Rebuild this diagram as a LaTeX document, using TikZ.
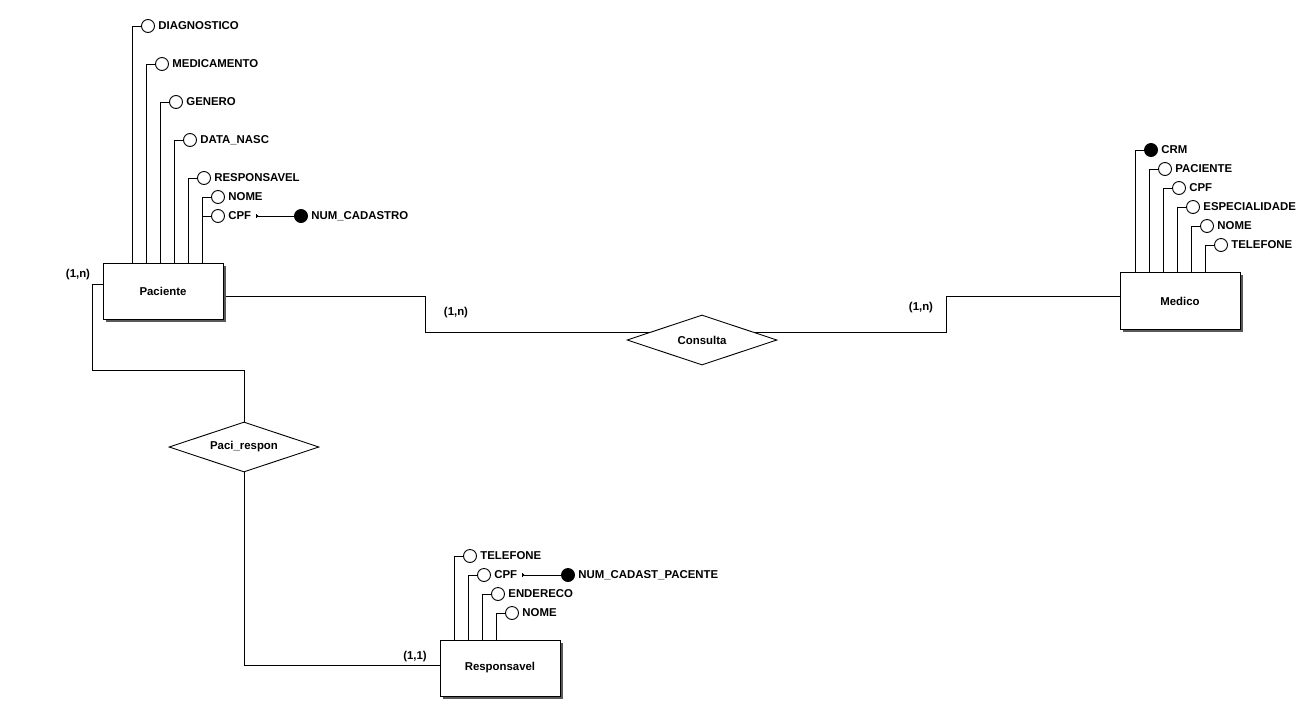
\documentclass[tikz,border=0pt]{standalone}
\usepackage{fontspec}
\setmainfont{Liberation Sans}
\usetikzlibrary{positioning,shapes.geometric,shadows,arrows.meta,backgrounds}

\tikzset{
  entity/.style={draw, fill=white, minimum width=120pt, minimum height=56pt,
    drop shadow={shadow xshift=2.5pt, shadow yshift=-2.5pt, fill=black!65, opacity=1}},
  relation/.style={draw, diamond, aspect=3, fill=white, inner sep=0pt,
    minimum width=150pt, minimum height=50pt},
  attr/.style={draw, circle, fill=white, minimum size=13pt, inner sep=0pt},
  keyattr/.style={attr, fill=black},
  attrtext/.style={inner sep=1pt},
  cpfline/.style={{Bar[width=4pt]Triangle[reversed,length=2pt,width=3pt]}-}
}

\begin{document}
\begin{tikzpicture}[x=1pt, y=-1pt, line width=0.9pt, font=\fontsize{11.4}{13}\selectfont\bfseries]

\useasboundingbox (0,0) rectangle (1302,702);

% Entities
\node[entity] (Paciente) at (163,291) {Paciente};
\node[entity, minimum height=57pt] (Medico) at (1180,301) {Medico};
\node[entity] (Responsavel) at (500,668) {Responsavel};

% Relationships
\node[relation] (Consulta) at (702,340) {Consulta};
\node[relation] (PaciRespon) at (244,447) {Paci\_respon};

% Attributes of Paciente
\foreach \nm/\txt/\yy/\xx in {pDiag/DIAGNOSTICO/26/132, pMedic/MEDICAMENTO/64/146,
    pGen/GENERO/102/160, pNasc/DATA\_NASC/140/174, pResp/RESPONSAVEL/178/188,
    pNome/NOME/197/202, pCpf/CPF/216/202}{
  \node[attr] (\nm) at (\xx+16,\yy) {};
  \node[attrtext, right=2pt of \nm] (\nm-t) {\txt};
  \draw (\nm.west) -| (\xx,0 |- Paciente.north);
}

% Composite CPF of Paciente
\node[keyattr] (pNum) at (301,216) {};
\node[attrtext, right=2pt of pNum] (pNum-t) {NUM\_CADASTRO};
\draw[cpfline] ([xshift=3pt]pCpf-t.east) -- (pNum.west);

% Attributes of Medico
\foreach \nm/\txt/\yy/\xx/\st in {mCrm/CRM/150/1135/keyattr, mPac/PACIENTE/169/1149/attr,
    mCpf/CPF/188/1163/attr, mEsp/ESPECIALIDADE/207/1177/attr,
    mNome/NOME/226/1191/attr, mTel/TELEFONE/245/1205/attr}{
  \node[\st] (\nm) at (\xx+16,\yy) {};
  \node[attrtext, right=2pt of \nm] (\nm-t) {\txt};
  \draw (\nm.west) -| (\xx,0 |- Medico.north);
}

% Attributes of Responsavel
\foreach \nm/\txt/\yy/\xx in {rTel/TELEFONE/556/454, rCpf/CPF/575/468,
    rEnd/ENDERECO/594/482, rNome/NOME/613/496}{
  \node[attr] (\nm) at (\xx+16,\yy) {};
  \node[attrtext, right=2pt of \nm] (\nm-t) {\txt};
  \draw (\nm.west) -| (\xx,0 |- Responsavel.north);
}

% Composite CPF of Responsavel
\node[keyattr] (rNum) at (568,575) {};
\node[attrtext, right=2pt of rNum] (rNum-t) {NUM\_CADAST\_PACENTE};
\draw[cpfline] ([xshift=3pt]rCpf-t.east) -- (rNum.west);

% Cardinalities
\node (card1) at (78,275) {(1,n)};
\node (card2) at (456,313) {(1,n)};
\node (card3) at (921,308) {(1,n)};
\node (card4) at (415,657) {(1,1)};

% Connectors
\begin{pgfonlayer}{background}
\draw ([yshift=-5pt]Paciente.east) -- ++(202,0) |- ([yshift=8pt]Consulta.center);
\draw ([yshift=5pt]Medico.west) -- ++(-173,0) |- ([yshift=8pt]Consulta.center);
\draw ([yshift=7pt]Paciente.west) -- ++(-10,0) -- ++(0,86) -| (PaciRespon.north);
\draw (PaciRespon.south) |- ([yshift=3pt]Responsavel.west);
\end{pgfonlayer}

\end{tikzpicture}
\end{document}
